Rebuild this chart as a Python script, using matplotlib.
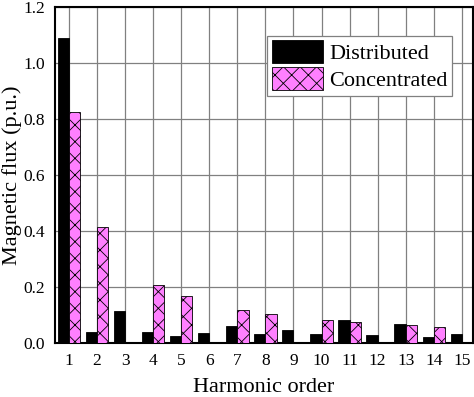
import numpy as np
import matplotlib
matplotlib.use('Agg')
import matplotlib.pyplot as plt

plt.rcParams['font.family'] = 'serif'
plt.rcParams['font.serif'] = ['Liberation Serif', 'TeX Gyre Termes', 'DejaVu Serif']
plt.rcParams['hatch.linewidth'] = 0.6

# harmonic orders and flux amplitudes (p.u.)
orders = list(range(1, 16))
distributed = [1.089, 0.039, 0.113, 0.039, 0.025, 0.037, 0.060, 0.033,
               0.046, 0.033, 0.083, 0.029, 0.069, 0.023, 0.031]
concentrated = [0.827, 0.413, 0.0, 0.206, 0.167, 0.0, 0.118, 0.104,
                0.0, 0.083, 0.075, 0.0, 0.064, 0.058, 0.0]

fig = plt.figure(figsize=(4.74, 3.97), dpi=100)
ax = fig.add_axes([0.116, 0.136, 0.882, 0.846])

x = np.array(orders)
w = 0.4
ax.bar(x - w / 2, distributed, w, color='black', edgecolor='black',
       linewidth=0.6, label='Distributed', zorder=3)
ax.bar(x + w / 2, concentrated, w, color='#ff80ff', edgecolor='black',
       linewidth=0.6, hatch='xx', label='Concentrated', zorder=3)

ax.set_xlim(0.5, 15.4)
ax.set_ylim(0, 1.2)
ax.set_xticks(orders)
ax.set_yticks(np.arange(0, 1.21, 0.2))
ax.set_yticklabels(['%.1f' % v for v in np.arange(0, 1.21, 0.2)])
ax.tick_params(length=0, labelsize=12.5, pad=7)
ax.grid(True, color='#808080', linewidth=0.9, zorder=0)
for s in ax.spines.values():
    s.set_linewidth(1.5)

ax.set_xlabel('Harmonic order', fontsize=16, labelpad=7)
ax.set_ylabel('Magnetic flux (p.u.)', fontsize=16, labelpad=1)

leg = ax.legend(loc='upper right', bbox_to_anchor=(0.95, 0.915), fontsize=16,
                fancybox=False, framealpha=1, edgecolor='#808080',
                handlelength=2.3, handleheight=1.2, handletextpad=0.3,
                borderpad=0.2, labelspacing=0.15, borderaxespad=0)
leg.get_frame().set_linewidth(0.9)

fig.savefig('out.png', dpi=100)
